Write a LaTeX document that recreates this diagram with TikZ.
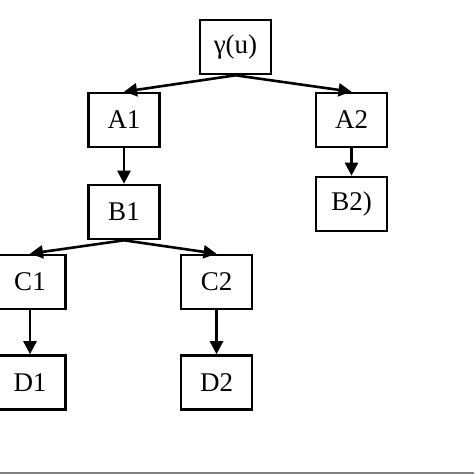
\documentclass[tikz,border=0pt]{standalone}
\usepackage{fontspec}
\setmainfont{Liberation Serif}
\usetikzlibrary{arrows.meta}
\begin{document}
\begin{tikzpicture}[x=0.5pt, y=-0.5pt,
  bx/.style={draw, line width=1.3pt, minimum width=35.5pt, minimum height=27pt, inner sep=0pt,
             font=\fontsize{13.5}{15}\selectfont},
  ar/.style={-{Triangle[length=6.5pt,width=6.5pt]}, line width=1.3pt}]
  \useasboundingbox (0,0) rectangle (474,474);
  % top of the tree
  \node[bx] (g) at (235.5,47) {γ(u)};
  \node[bx] (a1) at (124,120) {A1};
  \node[bx] (a2) at (351.5,120) {A2};
  \node[bx] (b1) at (124,212) {B1};
  \node[bx] (b2) at (351.5,204) {B2)};
  % lower branches
  \node[bx] (c1) at (30,282) {C1};
  \node[bx] (c2) at (216.5,282) {C2};
  \node[bx] (d1) at (30,382.5) {D1};
  \node[bx] (d2) at (216.5,382.5) {D2};
  \foreach \a/\b in {g/a1,g/a2,a1/b1,a2/b2,b1/c1,b1/c2,c1/d1,c2/d2} \draw[ar] (\a.south) -- (\b.north);
  % rule at the foot
  \coordinate (rl) at (0,473);
  \coordinate (rr) at (474,473);
  \draw[black!50, line width=1.5pt] (rl) -- (rr);
\end{tikzpicture}
\end{document}
